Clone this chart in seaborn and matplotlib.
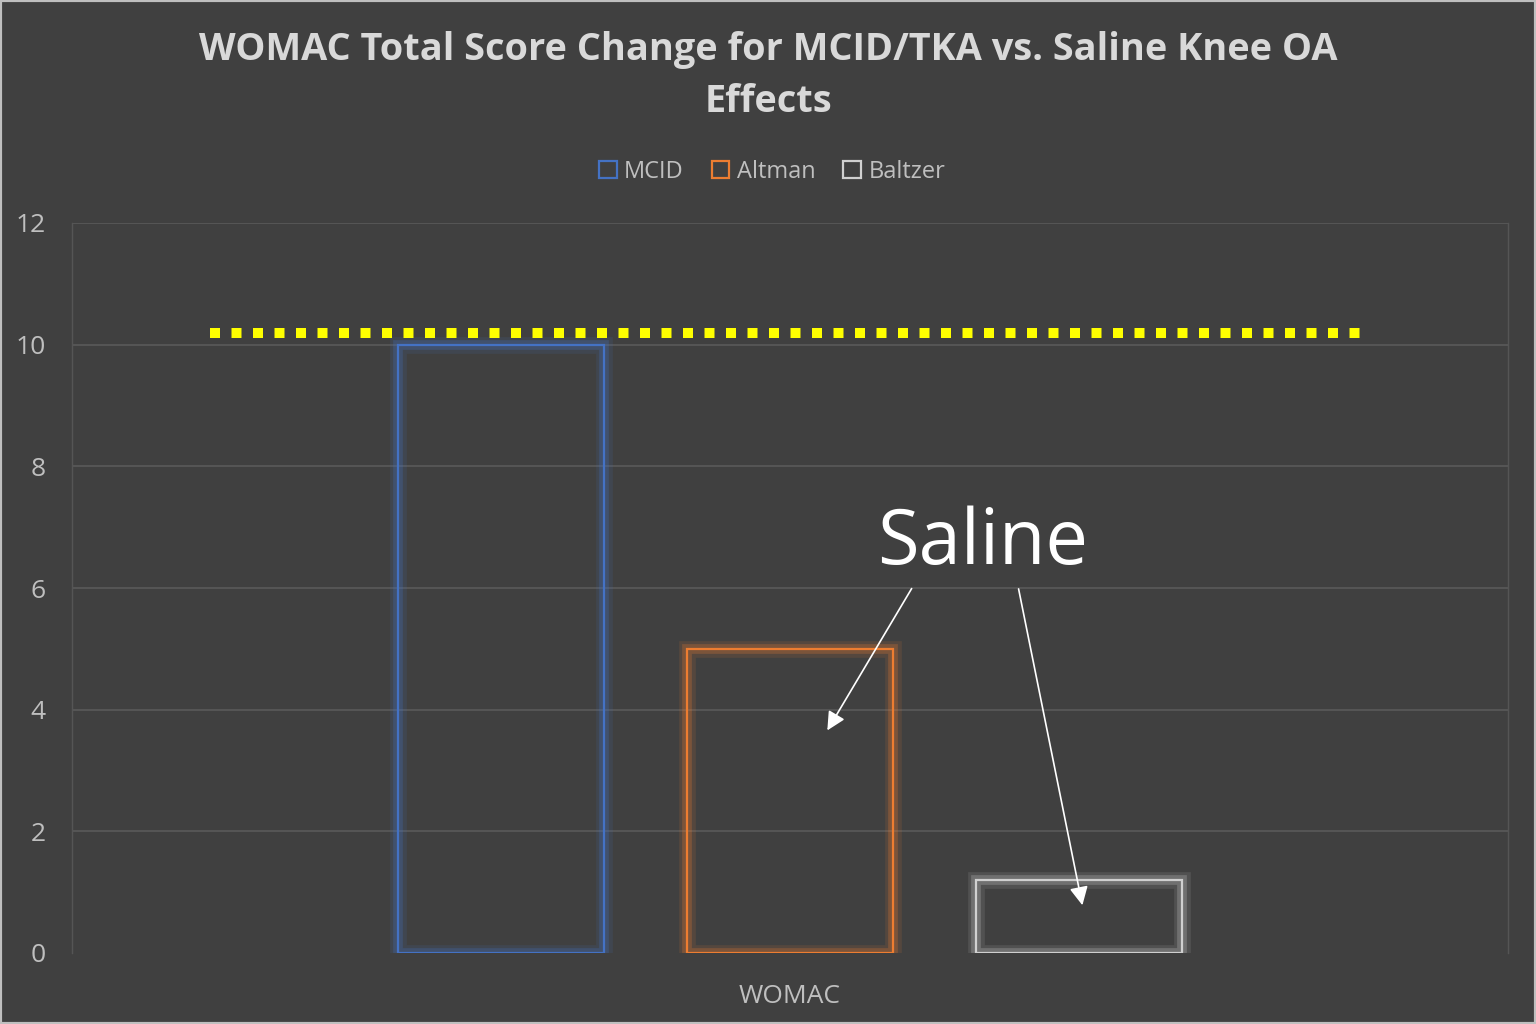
import pandas as pd
import matplotlib
matplotlib.use("Agg")
import matplotlib.pyplot as plt
import matplotlib.patches as mpatches
import matplotlib.patheffects as pe
import seaborn as sns

# dados
metric = ["WOMAC", "WOMAC", "WOMAC"]
series = ["MCID", "Altman", "Baltzer"]
values = [10.0, 5.0, 1.2]
colors = ["#4472C4", "#ED7D31", "#D0D0D0"]
mcid_line = 10.2
yticks = [0, 2, 4, 6, 8, 10, 12]

df = pd.DataFrame({"metric": metric, "series": series, "value": values})

bg = "#404040"
sns.set_theme(style="dark")
plt.rcParams["font.family"] = ["Open Sans", "DejaVu Sans"]

fig = plt.figure(figsize=(15.36, 10.24), dpi=100, facecolor=bg)
ax = fig.add_axes([72 / 1536, 71 / 1024, 1436 / 1536, 730 / 1024])
ax.set_facecolor(bg)

sns.barplot(data=df, x="metric", y="value", hue="series", palette=colors,
            fill=False, width=0.604, gap=0.287, linewidth=1.6, legend=False, ax=ax)

for p, c in zip(ax.patches, colors):
    p.set_path_effects([
        pe.Stroke(linewidth=12, foreground=c, alpha=0.12),
        pe.Stroke(linewidth=7, foreground=c, alpha=0.25),
        pe.Normal(),
    ])

# linha MCID/TKA pontilhada
ax.hlines(mcid_line, -0.404, 0.398, colors="#FFFF00", linewidth=7.2,
          linestyles=(0, (1, 1.15)), capstyle="butt", zorder=5)

ax.set_xlim(-0.5, 0.5)
ax.set_ylim(0, 12)
ax.set_yticks(yticks)
ax.grid(axis="y", color="#5a5a5a", linewidth=1.2)
ax.grid(axis="x", visible=False)
ax.yaxis.get_gridlines()[0].set_visible(False)
ax.set_axisbelow(True)
ax.tick_params(axis="both", colors="#bfbfbf", labelsize=19, length=0)
ax.tick_params(axis="y", pad=19)
ax.tick_params(axis="x", pad=22)
ax.set_xlabel("")
ax.set_ylabel("")
for s in ["top", "bottom"]:
    ax.spines[s].set_visible(False)
for s in ["left", "right"]:
    ax.spines[s].set_color("#555555")
    ax.spines[s].set_linewidth(1)

# anotação Saline
ax.text(0.134, 6.72, "Saline", color="white", fontsize=54.5, ha="center", va="center")
arrow = dict(arrowstyle="-|>", color="white", lw=1.2, mutation_scale=28)
ax.annotate("", xy=(0.025, 3.62), xytext=(0.0857, 6.03), arrowprops=arrow)
ax.annotate("", xy=(0.204, 0.74), xytext=(0.1588, 6.03), arrowprops=arrow)

fig.text(0.5, 1 - 76 / 1024,
         "WOMAC Total Score Change for MCID/TKA vs. Saline Knee OA\nEffects",
         ha="center", va="center", color="#d9d9d9", fontsize=27.3,
         fontweight="bold", linespacing=1.45)

handles = [mpatches.Patch(facecolor="none", edgecolor=c, linewidth=1.6) for c in colors]
leg = fig.legend(handles, series, loc="center", bbox_to_anchor=(772 / 1536, 1 - 172 / 1024),
                 ncol=3, frameon=False, fontsize=17, handlelength=0.75, handleheight=0.75,
                 handletextpad=0.3, columnspacing=1.2)
for t in leg.get_texts():
    t.set_color("#bfbfbf")

fig.patches.append(mpatches.Rectangle((0, 0), 1, 1, transform=fig.transFigure,
                                      fill=False, edgecolor="#bfbfbf", linewidth=3))

plt.savefig("out.png", dpi=100, facecolor=bg)
plt.close()
